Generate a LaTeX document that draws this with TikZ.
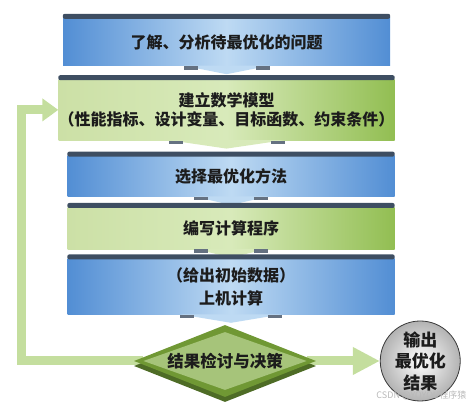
\documentclass[tikz,border=0pt]{standalone}
\usepackage{fontspec}
\newfontfamily\cjk{Noto Sans CJK SC}
\usetikzlibrary{positioning, arrows.meta, shapes.geometric, backgrounds, calc}
\definecolor{bandslate}{RGB}{62,78,98}
\definecolor{blueedge}{RGB}{82,142,212}
\definecolor{bluemid}{RGB}{190,218,243}
\definecolor{greenlite}{RGB}{204,224,166}
\definecolor{greenmid}{RGB}{216,234,186}
\definecolor{greendeep}{RGB}{146,190,82}
\definecolor{olivering}{RGB}{112,152,52}
\definecolor{oliveface}{RGB}{166,196,122}
\definecolor{oliveside}{RGB}{78,108,38}
\definecolor{flowgreen}{RGB}{196,222,158}
\definecolor{inkdark}{RGB}{28,28,28}
\newcommand{\stagetrim}[3]{
  \fill[bandslate, rounded corners=2pt] ($(#1.north west)+(0,-1pt)$) rectangle ($(#1.north east)+(0,4pt)$);
  \fill[#2] ($(#1.south)+(-#3,0.5pt)$) -- ($(#1.south)+(0,-8pt)$) -- ($(#1.south)+(#3,0.5pt)$) -- cycle;
  \fill[bandslate!80] ($(#1.south)+(-#3,0)$) rectangle ++(14pt,-3.5pt);
  \fill[bandslate!80] ($(#1.south)+(#3,0)$) rectangle ++(-14pt,-3.5pt);
}
\newcommand{\slab}[1]{
  \begin{scope}[on background layer]
    \node[diamond, fill=oliveside, minimum width=182pt, minimum height=72pt, inner sep=0pt] at ($(#1.center)+(0,-5pt)$) {};
    \node[diamond, fill=olivering, minimum width=182pt, minimum height=72pt, inner sep=0pt] at (#1.center) {};
  \end{scope}
}

\begin{document}
\begin{tikzpicture}[
    x=1pt, y=1pt,
    stage/.style={rectangle, minimum width=327pt, inner sep=0pt, align=center, text=inkdark,
      font=\cjk\bfseries\fontsize{16}{19}\selectfont},
    bluestage/.style={stage, left color=blueedge, right color=blueedge, middle color=bluemid},
    greenstage/.style={stage, left color=greenlite, right color=greendeep, middle color=greenmid},
    checkface/.style={diamond, aspect=3, fill=oliveface, minimum width=162pt, minimum height=58pt, inner sep=0pt,
      text=inkdark, font=\cjk\bfseries\fontsize{16.5}{19}\selectfont},
    result/.style={circle, minimum size=80pt, inner sep=0pt, inner color=white, outer color=gray!60,
      draw=gray!45!black, line width=0.8pt, align=center, text=inkdark,
      font=\cjk\bfseries\fontsize{17}{21.5}\selectfont},
    flow/.style={line width=9pt, draw=flowgreen, -{Triangle[length=16pt,width=22pt]}},
]
\useasboundingbox (0,0) rectangle (474,406);

% ------------------------------------------------------------ stages ---
\node[bluestage, minimum height=48pt] (study) at (226.5,364) {了解、分析待最优化的问题};
\stagetrim{study}{bluemid}{43pt}

\node[greenstage, minimum height=61pt, below=13pt of study] (model) {建立数学模型\\（性能指标、设计变量、目标函数、约束条件）};
\stagetrim{model}{greenmid}{58pt}

\node[bluestage, minimum height=41pt, below=15pt of model, xshift=4.5pt] (method) {选择最优化方法};
\stagetrim{method}{bluemid}{37pt}

\node[greenstage, minimum height=42pt, below=10pt of method] (coding) {编写计算程序};
\stagetrim{coding}{greenmid}{37pt}

\node[bluestage, minimum height=56pt, below=9pt of coding] (compute) {（给出初始数据）\\[4pt]上机计算};
\stagetrim{compute}{bluemid}{51pt}

% ---------------------------------------------------- check and output ---
\node[checkface, below=17pt of compute, xshift=-6pt] (check) {结果检讨与决策};
\node[result, right=73pt of check] (result) {输出\\最优化\\结果};

\begin{scope}[on background layer]
  \draw[flow] (check.west) -- ++(-122pt,0) |- (model.west);
  \draw[flow, -{Triangle[length=27pt,width=26pt]}] (check.east) -- (result.west);
\end{scope}
\slab{check}

\node[font=\cjk\fontsize{9}{10}\selectfont, text=gray!55, anchor=south east] (credit) at (470,2) {CSDN @YOYOU程序猿};

\end{tikzpicture}
\end{document}
